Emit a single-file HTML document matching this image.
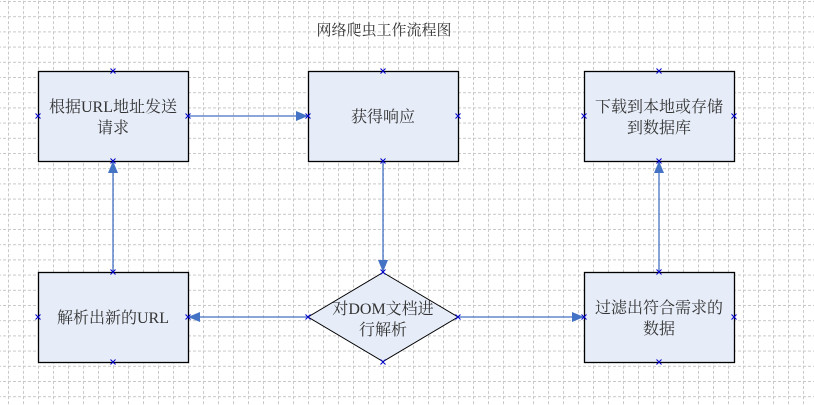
<!DOCTYPE html>
<html><head><meta charset="utf-8"><style>
html,body{margin:0;padding:0;background:#fff;}
svg{display:block}
text{font-family:"Liberation Serif","Noto Serif CJK SC",serif;font-size:16px;fill:#333;text-anchor:middle}
</style></head><body>
<svg width="814" height="405" viewBox="0 0 814 405" xmlns="http://www.w3.org/2000/svg">
<defs>
<pattern id="g" x="8" y="1" width="15" height="15.2" patternUnits="userSpaceOnUse">
<line x1="0.5" y1="0" x2="0.5" y2="15.2" stroke="#c8c8c8" stroke-width="1" stroke-dasharray="3,2"/>
<line x1="0" y1="0.5" x2="15" y2="0.5" stroke="#c8c8c8" stroke-width="1" stroke-dasharray="3,2"/>
</pattern>
<marker id="a" markerWidth="12" markerHeight="10" refX="12" refY="5" orient="auto" markerUnits="userSpaceOnUse">
<path d="M0,0 L12,5 L0,10 Z" fill="#4472c4"/>
</marker>
<g id="x"><path d="M-2.5,-2.5 L2.5,2.5 M-2.5,2.5 L2.5,-2.5" stroke="#0000cc" stroke-width="1"/></g>
</defs>
<rect width="814" height="405" fill="url(#g)"/>
<text x="384" y="35" style="font-size:15px">网络爬虫工作流程图</text>
<g stroke="#4472c4" stroke-width="1.3" fill="none">
<line x1="188" y1="116" x2="308" y2="116" marker-end="url(#a)"/>
<line x1="383" y1="161" x2="383" y2="272" marker-end="url(#a)"/>
<line x1="308" y1="317" x2="188" y2="317" marker-end="url(#a)"/>
<line x1="458" y1="317" x2="584" y2="317" marker-end="url(#a)"/>
<line x1="113" y1="272" x2="113" y2="161" marker-end="url(#a)"/>
<line x1="659" y1="272" x2="659" y2="161" marker-end="url(#a)"/>
</g>
<g fill="#e7edf8" stroke="#000" stroke-width="1.3">
<rect x="38.5" y="71.5" width="150" height="90"/>
<rect x="308.5" y="71.5" width="150" height="90"/>
<rect x="584.5" y="71.5" width="150" height="90"/>
<rect x="38.5" y="272.5" width="150" height="90"/>
<rect x="584.5" y="272.5" width="150" height="90"/>
<path d="M383,272.5 L458,317 L383,361.5 L308,317 Z" stroke-width="1"/>
</g>
<text x="113" y="112">根据URL地址发送</text><text x="113" y="133">请求</text>
<text x="383" y="122">获得响应</text>
<text x="659" y="112">下载到本地或存储</text><text x="659" y="133">到数据库</text>
<text x="113" y="323">解析出新的URL</text>
<text x="383" y="314">对DOM文档进</text><text x="383" y="335">行解析</text>
<text x="659" y="313">过滤出符合需求的</text><text x="659" y="334">数据</text>
<use href="#x" x="113" y="71"/><use href="#x" x="113" y="161"/><use href="#x" x="38" y="116"/><use href="#x" x="188" y="116"/>
<use href="#x" x="383" y="71"/><use href="#x" x="383" y="161"/><use href="#x" x="308" y="116"/><use href="#x" x="458" y="116"/>
<use href="#x" x="659" y="71"/><use href="#x" x="659" y="161"/><use href="#x" x="584" y="116"/><use href="#x" x="734" y="116"/>
<use href="#x" x="113" y="272"/><use href="#x" x="113" y="362"/><use href="#x" x="38" y="317"/><use href="#x" x="188" y="317"/>
<use href="#x" x="383" y="272"/><use href="#x" x="383" y="362"/><use href="#x" x="308" y="317"/><use href="#x" x="458" y="317"/>
<use href="#x" x="659" y="272"/><use href="#x" x="659" y="362"/><use href="#x" x="584" y="317"/><use href="#x" x="734" y="317"/>
</svg>
</body></html>
